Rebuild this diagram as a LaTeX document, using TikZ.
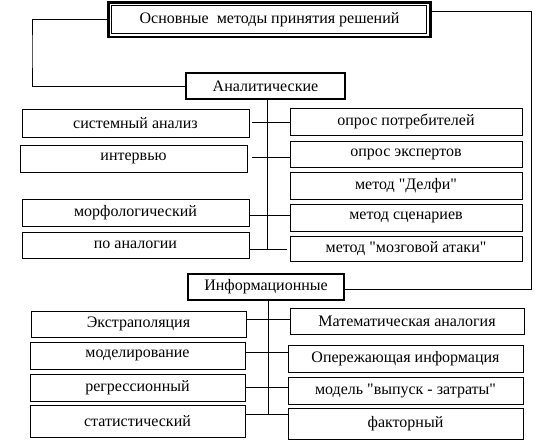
\documentclass[tikz,border=0pt]{standalone}
\usepackage{fontspec}
\setmainfont{Liberation Serif}
\newfontfamily\boxfont{Liberation Serif}
\usetikzlibrary{calc}
\tikzset{
  bx/.style={draw, line width=1pt, inner sep=0pt, outer sep=0pt,
    font=\boxfont\fontsize{16}{18}\selectfont},
  hb/.style={bx, line width=2pt},
  ln/.style={line width=1pt},
}
\newcommand\mybox[7]{%
  \node[#1, minimum width={#5-#3}, minimum height={#6-#4}] (#2)
    at ({(#3+#5)/2},{(#4+#6)/2}) {#7};}
\begin{document}
\begin{tikzpicture}[x=1pt,y=-1pt]
\useasboundingbox (0,0) rectangle (545,445);
% top box (thick-thin double border)
\mybox{bx, line width=2.5pt}{top}{108.5}{2.5}{430.5}{37}{\raisebox{3pt}{Основные\ \ методы принятия решений}}
\draw[line width=1pt] ([shift={(3,2.5)}]top.north west) rectangle ([shift={(-4,-3.5)}]top.south east);
% group heads
\mybox{hb}{ana}{186}{73}{345}{99}{Аналитические}
\mybox{hb}{inf}{188}{274}{344}{300}{Информационные}
% analytic
\mybox{bx}{sys}{22}{109}{249}{137}{системный анализ}
\mybox{bx}{opr}{290}{108}{522}{135}{опрос потребителей}
\mybox{bx}{int}{20}{145}{247}{172}{интервью}
\mybox{bx}{eks}{290}{141}{522}{167}{опрос экспертов}
\mybox{bx}{del}{290}{172}{522}{199}{метод "Делфи"}
\mybox{bx}{morf}{22}{199}{249}{226}{морфологический}
\mybox{bx}{scen}{290}{204}{522}{231}{метод сценариев}
\mybox{bx}{anl}{22}{232}{249}{258}{по аналогии}
\mybox{bx}{mozg}{290}{236}{522}{261}{метод "мозговой атаки"}
% informational
\mybox{bx}{ekst}{31}{311}{246}{337}{Экстраполяция}
\mybox{bx}{mat}{290}{308}{524}{334}{Математическая аналогия}
\mybox{bx}{mod}{30}{342}{245}{369}{моделирование}
\mybox{bx}{oper}{288}{345}{523}{372}{Опережающая информация}
\mybox{bx}{regr}{30}{374}{245}{401}{регрессионный}
\mybox{bx}{vyp}{288}{377}{523}{404}{модель "выпуск - затраты"}
\mybox{bx}{stat}{30}{405}{245}{437}{статистический}
\mybox{bx}{fakt}{288}{408}{523}{439}{факторный}
% main links
\coordinate (lc) at (32,50);
\coordinate (rc) at (531,150);
\draw[ln] (top.west) -| (lc) |- (ana.west);
\draw[ln] ([yshift=8pt]top.east) -| (rc) |- ([yshift=-2pt]inf.east);
% trunks
\path ([xshift=1.5pt]ana.south) ++(0,151) coordinate (aend);
\draw[ln] ([xshift=1.5pt]ana.south) -- (aend);
\path ([xshift=2pt]inf.south) ++(0,114) coordinate (iend);
\draw[ln] ([xshift=2pt]inf.south) -- (iend);
% branches
\draw[ln, shorten <=3pt] ([yshift=1pt]sys.east) -- ([yshift=1pt]sys.east -| opr.west);
\draw[ln, shorten <=5pt] ([yshift=1.5pt]int.east) -- ([yshift=1.5pt]int.east -| eks.west);
\draw[ln] ([yshift=-2.5pt]morf.east) -- ([yshift=-2.5pt]morf.east -| scen.west);
\draw[ln, shorten >=3pt] ([yshift=-4pt]anl.east) -- ([yshift=-4pt]anl.east -| mozg.west);
\draw[ln] ([yshift=5pt]ekst.east) -- ([yshift=5pt]ekst.east -| mat.west);
\draw[ln] ([yshift=3.5pt]mod.east) -- ([yshift=3.5pt]mod.east -| oper.west);
\draw[ln] (regr.east) -- (regr.east -| vyp.west);
\draw[ln] ([yshift=7pt]stat.east) -- ([yshift=7pt]stat.east -| fakt.west);
\end{tikzpicture}
\end{document}
